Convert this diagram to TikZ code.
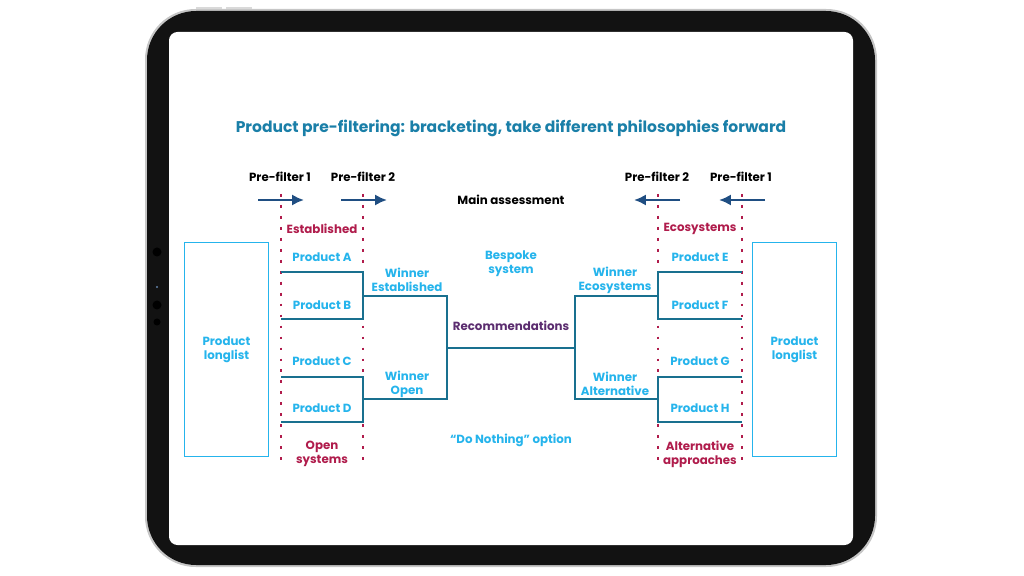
\documentclass[tikz,border=0pt]{standalone}
\usepackage{fontspec}
\setmainfont{Poppins}
\usetikzlibrary{arrows.meta, positioning}

\definecolor{titleblue}{HTML}{1A7FA8}
\definecolor{skyblue}{HTML}{25B4EC}
\definecolor{crimson}{HTML}{B01C4C}
\definecolor{bracketteal}{HTML}{19708F}
\definecolor{plum}{HTML}{5B2C6F}
\definecolor{arrownavy}{HTML}{1F4E82}
\definecolor{bezel}{HTML}{121212}

\begin{document}
\begin{tikzpicture}[
    x=0.025cm, y=-0.025cm,
    lbl/.style={font=\fontsize{8.4}{10}\selectfont\bfseries, align=center, inner sep=0pt},
    prod/.style={lbl, text=skyblue},
    group/.style={lbl, text=crimson},
    filter/.style={lbl, text=black},
    bracket/.style={draw=bracketteal, line width=2pt},
    filterline/.style={draw=crimson, line width=2pt, dash pattern=on 2pt off 5.8pt},
    push/.style={draw=arrownavy, line width=1.7pt, -{Latex[length=8.5pt, width=8pt]}},
    longlist/.style={prod, draw=skyblue, line width=1.1pt, minimum width=2.1cm, minimum height=5.35cm}
]
    \useasboundingbox (0,0) rectangle (1024,576);

    % tablet
    \fill [gray!45, rounded corners=36pt] (145,9) rectangle (877,567);
    \fill [bezel, rounded corners=35pt] (147,11) rectangle (875,565);
    \fill [white, rounded corners=6pt] (169,32) rectangle (853,545);
    \fill [gray!30] (196,7) rectangle (222,9);
    \fill [gray!30] (226,7) rectangle (252,9);
    \foreach \y/\r in {252/4.5, 305/4.5, 322/3.5}
        \fill [black] (157,\y) circle (\r);
    \fill [arrownavy!70] (157,287) circle (1.2);

    % title
    \node [lbl, text=titleblue, font=\fontsize{11.05}{14}\selectfont\bfseries] (title) at (511,128)
        {Product pre-filtering: bracketing, take different philosophies forward};

    % filter columns
    \node [filter] (pf1l) at (280,177) {Pre-filter 1};
    \node [filter] (pf2l) at (363,177) {Pre-filter 2};
    \node [filter] (pf2r) at (657,177) {Pre-filter 2};
    \node [filter] (pf1r) at (741,177) {Pre-filter 1};
    \node [filter] (main) at (511,200) {Main assessment};

    \foreach \n/\x in {fa/281, fb/363, fc/658, fd/742} {
        \coordinate (\n top) at (\x,194);
        \coordinate (\n bot) at (\x,462);
        \draw [filterline] (\n top) -- (\n bot);
    }

    \coordinate (a1s) at (258,200); \coordinate (a1e) at (304,200);
    \coordinate (a2s) at (341,200); \coordinate (a2e) at (387,200);
    \coordinate (a3s) at (680,200); \coordinate (a3e) at (634,200);
    \coordinate (a4s) at (765,200); \coordinate (a4e) at (719,200);
    \draw [push] (a1s) -- (a1e);
    \draw [push] (a2s) -- (a2e);
    \draw [push] (a3s) -- (a3e);
    \draw [push] (a4s) -- (a4e);

    % groups
    \node [group] (est) at (322,229) {Established};
    \node [group] (eco) at (700,229) {Ecosystems};
    \node [group] (open) at (322,454) {Open\\systems};
    \node [group] (alt) at (700,454) {Alternative\\approaches};

    % longlists
    \node [longlist] (listl) at (226.5,349.5) {Product\\longlist};
    \node [longlist] (listr) at (794.5,349.5) {Product\\longlist};

    % products
    \node [prod] (pa) at (322,257) {Product A};
    \node [prod] (pb) at (322,305) {Product B};
    \node [prod] (pc) at (322,361) {Product C};
    \node [prod] (pd) at (322,408) {Product D};
    \node [prod] (pe) at (700,257) {Product E};
    \node [prod] (pf) at (700,305) {Product F};
    \node [prod] (pg) at (700,361) {Product G};
    \node [prod] (ph) at (700,408) {Product H};

    \node [prod] (west) at (407,280) {Winner\\Established};
    \node [prod] (wopen) at (407,384) {Winner\\Open};
    \node [prod] (weco) at (615,280) {Winner\\Ecosystems};
    \node [prod] (walt) at (615,384) {Winner\\Alternative};

    \node [prod] (bespoke) at (511,264) {Bespoke\\system};
    \node [lbl, text=plum] (rec) at (511,326) {Recommendations};
    \node [prod] (nothing) at (511,440) {“Do Nothing” option};

    % bracket joints
    \coordinate (ja) at (281,272); \coordinate (jb) at (281,319);
    \coordinate (jc) at (281,377); \coordinate (jd) at (281,422);
    \coordinate (je) at (742,272); \coordinate (jf) at (742,319);
    \coordinate (jg) at (742,377); \coordinate (jh) at (742,422);
    \coordinate (wl1) at (447,296); \coordinate (wl2) at (447,399);
    \coordinate (wr1) at (575,296); \coordinate (wr2) at (575,399);

    \draw [bracket] (ja) -| (363,319) -- (jb);
    \draw [bracket] (jc) -| (363,422) -- (jd);
    \draw [bracket] (363,296) -- (wl1) -- (wl2) -- (363,399);
    \draw [bracket] (je) -| (658,319) -- (jf);
    \draw [bracket] (jg) -| (658,422) -- (jh);
    \draw [bracket] (658,296) -- (wr1) -- (wr2) -- (658,399);
    \draw [bracket] (447,348) -- (575,348);
\end{tikzpicture}
\end{document}
